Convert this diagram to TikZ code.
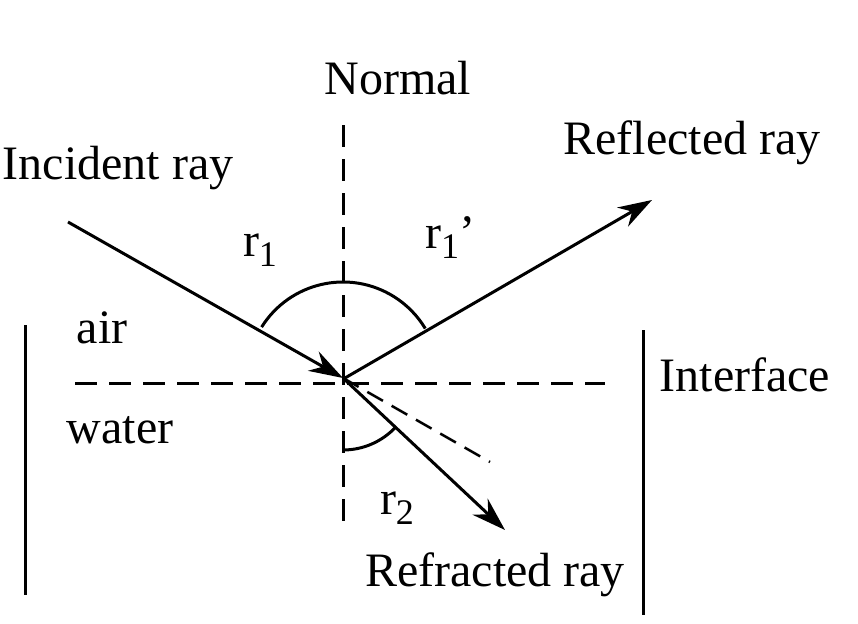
\documentclass[tikz,border=0pt]{standalone}
\usepackage{fontspec}
\setmainfont{Liberation Serif}
\usetikzlibrary{arrows.meta}
\newcommand{\mysub}[1]{\raisebox{-10pt}{\fontsize{36}{38}\selectfont #1}}
\begin{document}
\begin{tikzpicture}[x=1pt,y=-1pt,
  lbl/.style={font=\fontsize{48}{52}\selectfont,inner sep=0pt},
  ray/.style={line width=3pt,-{Stealth[length=34pt,width=22pt]}},
  dsh/.style={line width=3pt,dash pattern=on 22pt off 12pt},
  every path/.style={line width=3pt}]
\useasboundingbox (0,0) rectangle (858,623);
\coordinate (O) at (343,378);
\coordinate (nt) at (343,125); \coordinate (nb) at (343,530);
\coordinate (il) at (75,383); \coordinate (ir) at (605,383);
\coordinate (inc) at (68,222); \coordinate (refl) at (652,200);
\coordinate (refr) at (505,530); \coordinate (ext) at (490,462);
\draw[dsh] (nt) -- (nb);
\draw[dsh] (il) -- (ir);
\draw[ray] (inc) -- (O);
\draw[ray] ([xshift=2pt]O) -- (refl);
\draw[ray] (O) -- (refr);
\draw[line width=2.5pt,dash pattern=on 18pt off 10pt] (O) -- (ext);
\draw (O) ++(-148:96) arc[start angle=-148,end angle=-31,radius=96];
\draw (O) ++(90:72) arc[start angle=90,end angle=43,radius=72];
\draw (25,325) -- (25,595);
\draw (643,330) -- (643,615);
\node[lbl] (normal) at (398,78) {Normal};
\node[lbl] (incl) at (118,168) {Incident ray};
\node[lbl] (refll) at (692,143) {Reflected ray};
\node[lbl] (r1) at (260,250) {r\mysub{1}};
\node[lbl] (r1p) at (450,238) {r\mysub{1}'};
\node[lbl] (air) at (102,328) {air};
\node[lbl] (water) at (120,430) {water};
\node[lbl] (intf) at (745,375) {Interface};
\node[lbl] (r2) at (397,508) {r\mysub{2}};
\node[lbl] (refrl) at (495,575) {Refracted ray};
\end{tikzpicture}
\end{document}
